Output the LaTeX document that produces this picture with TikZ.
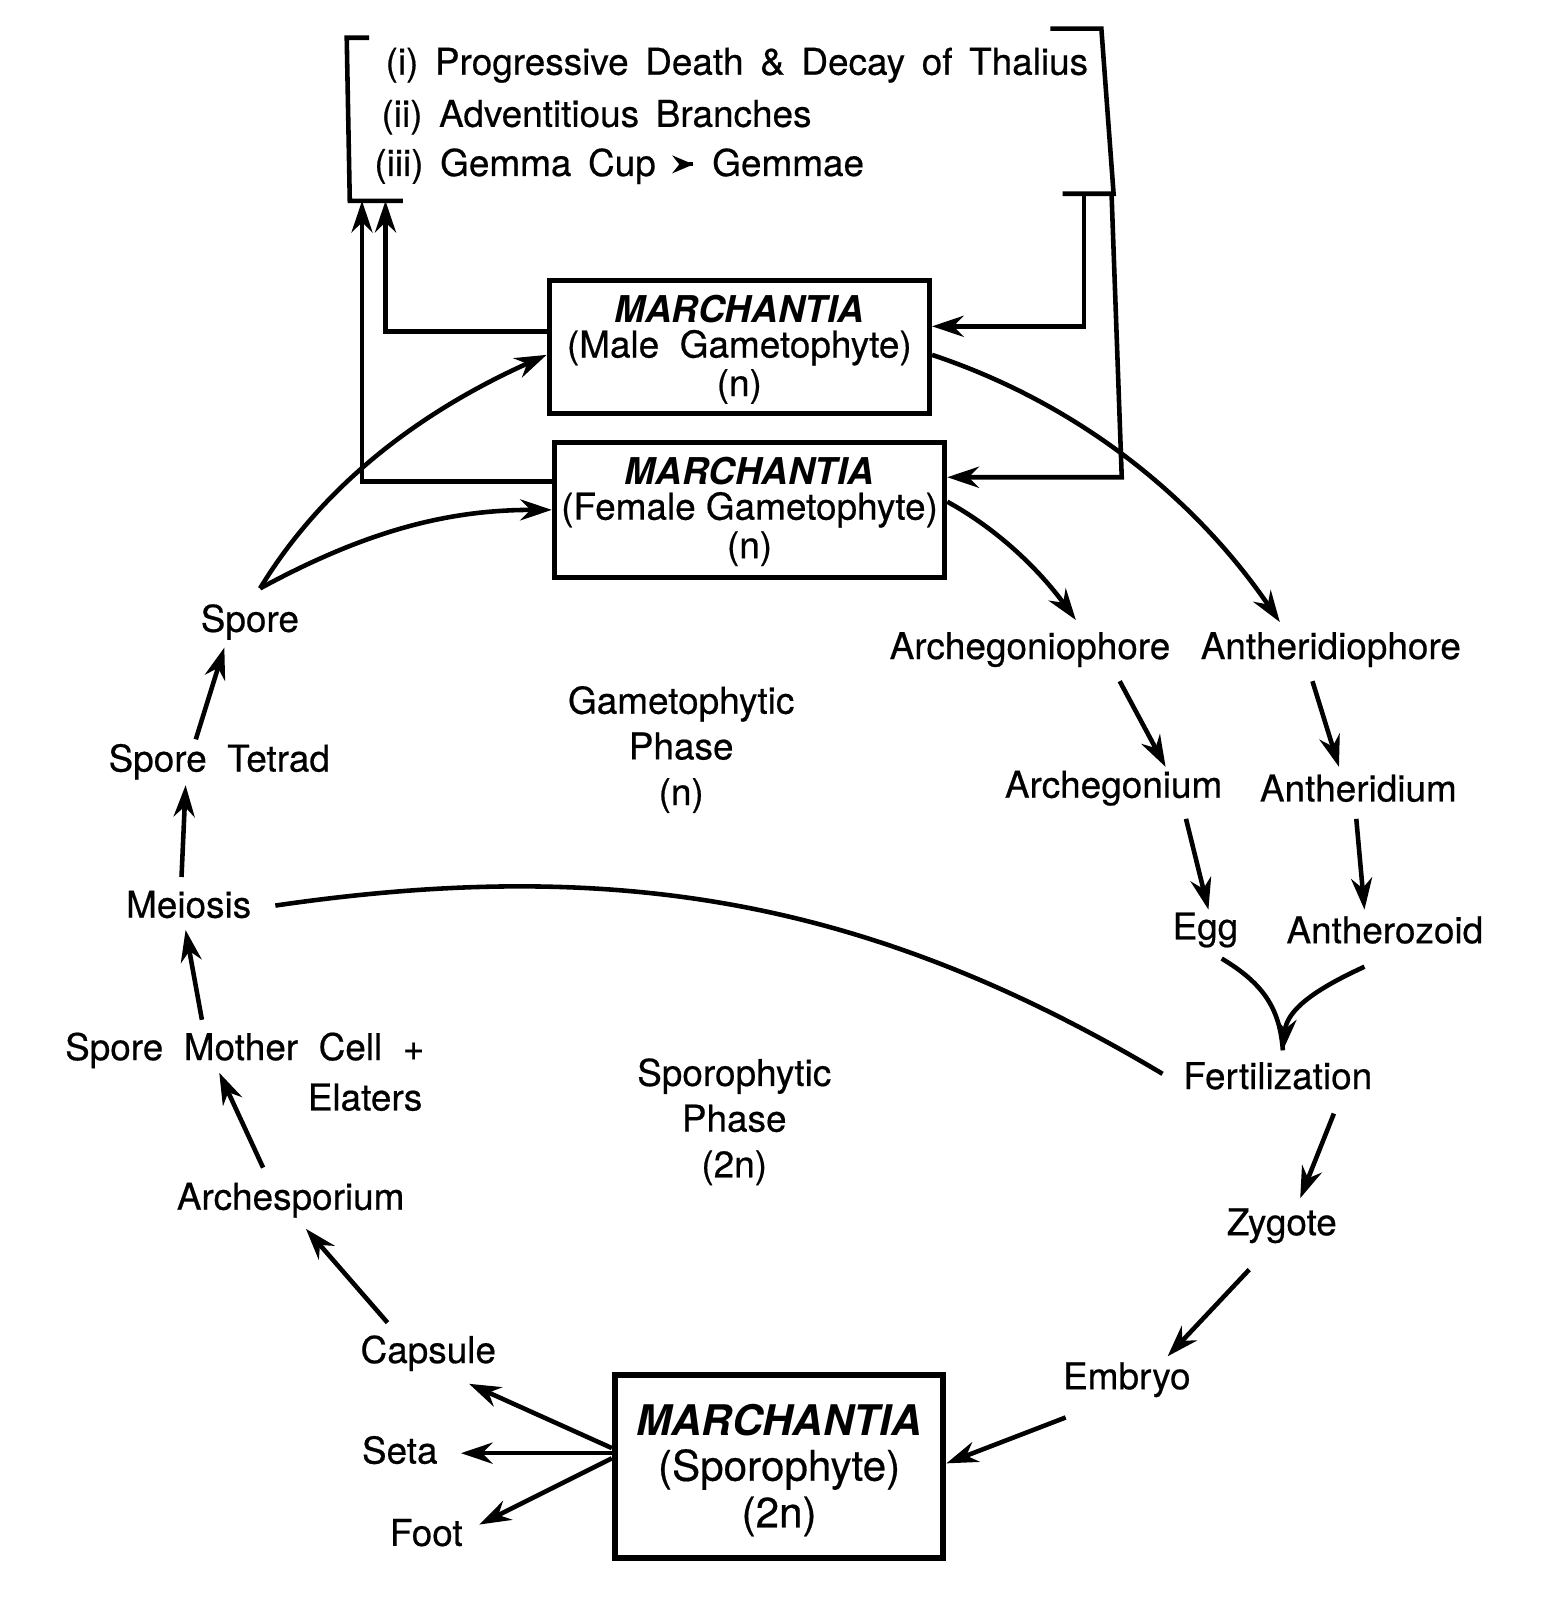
\documentclass[tikz,border=0pt]{standalone}
\usepackage{fontspec}
\setmainfont{TeX Gyre Heros}[UprightFeatures={FakeBold=0.5},ItalicFeatures={FakeBold=0.5}]
\usetikzlibrary{arrows.meta}
\newcommand{\gp}{\hspace{0.45em}}
\begin{document}
\begin{tikzpicture}[x=0.0102cm,y=-0.0102cm,
  every node/.style={font=\fontsize{10.5}{13}\selectfont, align=center, inner sep=1pt},
  ln/.style={line width=1.3pt},
  ar/.style={line width=1.3pt,-{Stealth[length=9pt,width=6pt]}}]
\useasboundingbox (0,0) rectangle (1524,1569);
% top bracket
\draw[ln] (362,37) -- (340,37) -- (343,197) -- (395,197);
\draw[ln] (1030,28) -- (1080,28) -- (1092,190) -- (1042,190);
\node[anchor=west] (t1) at (374,64) {(i)\gp Progressive\gp Death\gp \&\gp Decay\gp of\gp Thalius};
\node[anchor=west] (t2) at (370,115) {(ii)\gp Adventitious\gp Branches};
\node[anchor=west] (t3) at (363,163) {(iii)\gp Gemma\gp Cup\gp \tikz[baseline=-0.6ex]\draw[line width=1.2pt,-{Stealth[length=6pt,width=5pt]}] (0,0)--(0.45,0);\gp Gemmae};
\coordinate (bl1) at (355,197); \coordinate (bl2) at (378,197);
\coordinate (br1) at (1063,190); \coordinate (br2) at (1090,190);
% boxes
\node[draw,line width=1.5pt,minimum width=3.8cm, minimum height=1.33cm] (male) at (725,340) {};
\node at (725,303) {\textbf{\textit{MARCHANTIA}}};
\node at (725,341) {(Male\ \ Gametophyte)};
\node at (725,379) {(n)};
\node[draw,line width=1.5pt,minimum width=3.9cm, minimum height=1.35cm] (fem) at (735,500) {};
\node at (735,462) {\textbf{\textit{MARCHANTIA}}};
\node at (735,500) {(Female\ Gametophyte)};
\node at (735,538) {(n)};
\node[draw,line width=1.8pt,minimum width=3.28cm, minimum height=1.83cm] (spo) at (764,1438) {};
\node at (764,1393) {\fontsize{12}{14}\selectfont\textbf{\textit{MARCHANTIA}}};
\node at (764,1441) {\fontsize{12}{14}\selectfont(Sporophyte)};
\node at (764,1487) {\fontsize{12}{14}\selectfont(2n)};
% bracket connectors
\draw[ar] (male.west |- 0,325) -- (378,325) -- (bl2);
\draw[ar] (fem.west |- 0,472) -- (355,472) -- (bl1);
\draw[ar] (br1) -- (1063,320) -- (male.east |- 0,320);
\draw[ar] (br2) -- (1100,468) -- (fem.east |- 0,468);
% left column
\node (spore) at (245,610) {Spore};
\node (tet) at (215,747) {Spore\ \ Tetrad};
\node (mei) at (185,887) {Meiosis};
\node (smc) at (240,1030) {Spore\ \ Mother\ \ Cell\ \ +};
\node (ela) at (358,1076) {Elaters};
\node (arch) at (285,1177) {Archesporium};
\node (cap) at (420,1327) {Capsule};
\node (seta) at (392,1422) {Seta};
\node (foot) at (418,1503) {Foot};
\node (gph) at (668,735) {Gametophytic\\Phase\\(n)};
\node (sph) at (720,1100) {Sporophytic\\Phase\\(2n)};
% right column
\node (agp) at (1010,637) {Archegoniophore};
\node (anp) at (1305,637) {Antheridiophore};
\node (agm) at (1092,773) {Archegonium};
\node (anm) at (1332,773) {Antheridium};
\node (egg) at (1182,912) {Egg};
\node (anz) at (1358,912) {Antherozoid};
\node (fer) at (1253,1055) {Fertilization};
\node (zyg) at (1257,1202) {Zygote};
\node (emb) at (1105,1353) {Embryo};
% arrows
\coordinate (sp0) at (255,577);
\draw[ar] (sp0) .. controls (320,470) and (420,400) .. (male.west |- 0,348);
\draw[ar] (sp0) .. controls (360,520) and (440,500) .. (fem.west |- 0,500);
\draw[ar] (192,725) -- (220,635);
\draw[ar] (178,860) -- (182,770);
\draw[ar] (198,1000) -- (182,912);
\draw[ar] (258,1145) -- (215,1052);
\draw[ar] (380,1297) -- (300,1205);
\draw[ar] (spo.west |- 0,1420) -- (460,1357);
\draw[ar] (spo.west |- 0,1425) -- (452,1425);
\draw[ar] (spo.west |- 0,1430) -- (470,1495);
\draw[ar] (1045,1390) -- (spo.east |- 0,1435);
\draw[ar] (1225,1245) -- (1145,1330);
\draw[ar] (1308,1092) -- (1275,1175);
\draw[ln] (1198,940) .. controls (1240,965) and (1255,990) .. (1258,1030);
\draw[ar] (1338,948) .. controls (1290,970) and (1262,990) .. (1258,1030);
\draw[ln] (270,888) .. controls (600,840) and (850,880) .. (1140,1053);
\draw[ar] (1098,668) -- (1143,752);
\draw[ar] (1287,668) -- (1313,752);
\draw[ar] (1163,803) -- (1185,892);
\draw[ar] (1330,803) -- (1338,892);
\draw[ar] (fem.east |- 0,492) .. controls (980,520) and (1020,560) .. (1055,608);
\draw[ar] (male.east |- 0,348) .. controls (1070,400) and (1180,500) .. (1255,610);
\end{tikzpicture}
\end{document}
